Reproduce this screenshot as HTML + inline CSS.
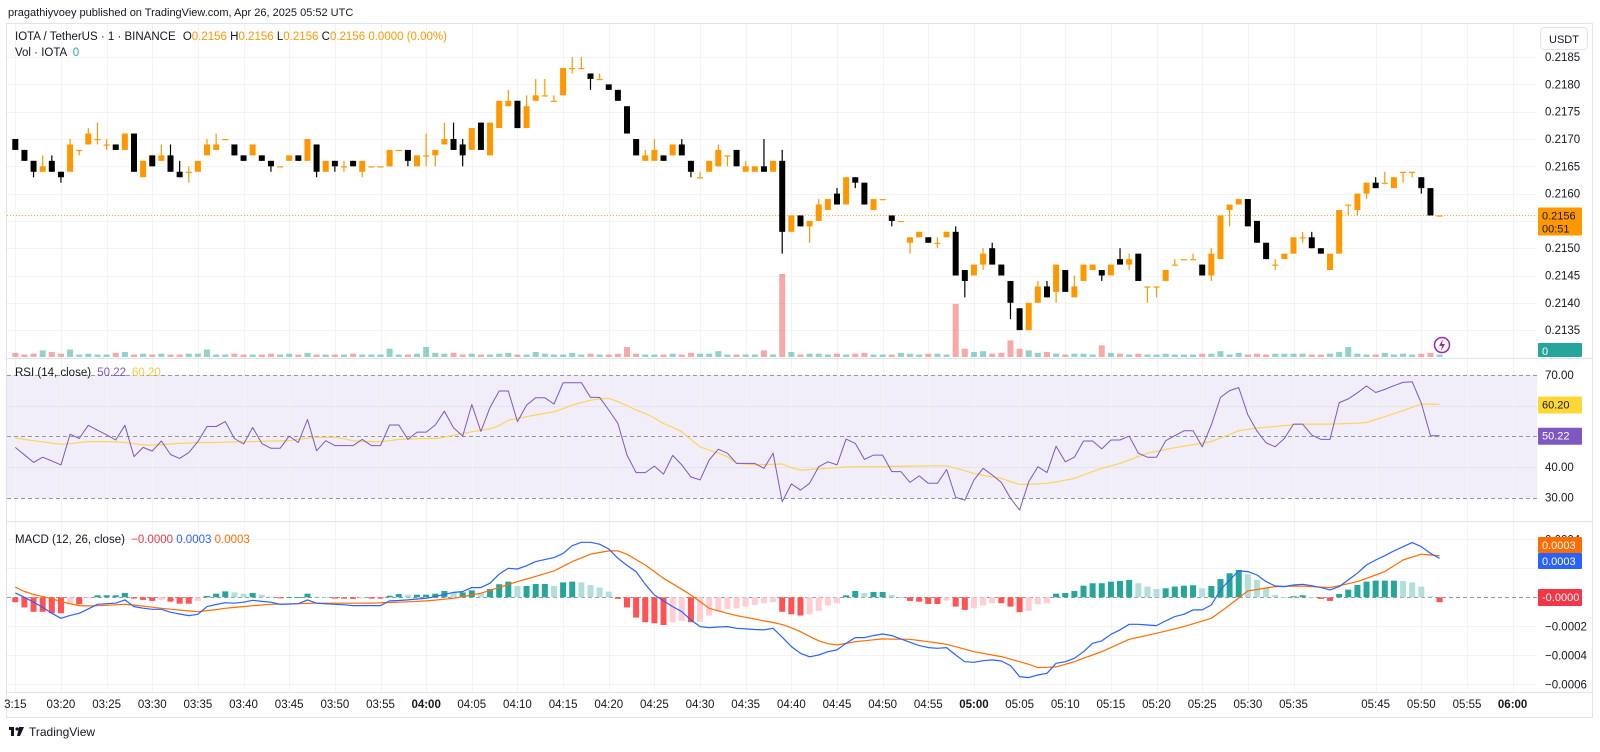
<!DOCTYPE html>
<html><head><meta charset="utf-8">
<style>
html,body{margin:0;padding:0;background:#fff;}
body{width:1600px;height:747px;overflow:hidden;font-family:"Liberation Sans",sans-serif;}
svg text{font-family:"Liberation Sans",sans-serif;}
</style></head>
<body>
<svg id="chart" width="1600" height="747" viewBox="0 0 1600 747" xmlns="http://www.w3.org/2000/svg">
<text x="8" y="16" font-size="11" fill="#131722">pragathiyvoey published on TradingView.com, Apr 26, 2025 05:52 UTC</text>
<rect x="6.5" y="23.5" width="1586" height="694" fill="none" stroke="#e0e3eb"/>
<rect x="7" y="375" width="1530" height="123" fill="#7e57c2" fill-opacity="0.1"/>
<g id="grid"></g>
<line x1="7" y1="358.5" x2="1592" y2="358.5" stroke="#e0e3eb"/>
<line x1="7" y1="521.5" x2="1592" y2="521.5" stroke="#e0e3eb"/>
<line x1="7" y1="692.5" x2="1592" y2="692.5" stroke="#e0e3eb"/>
<g id="marks" clip-path="url(#plotclip)"></g>
<defs><clipPath id="plotclip"><rect x="7" y="24" width="1530" height="668"/></clipPath></defs>
<g id="axes"></g>
<g font-size="11.5">
<text x="15" y="40" fill="#131722">IOTA / TetherUS · 1 · BINANCE <tspan dx="4">O</tspan><tspan fill="#ff9800">0.2156</tspan> H<tspan fill="#ff9800">0.2156</tspan> L<tspan fill="#ff9800">0.2156</tspan> C<tspan fill="#ff9800">0.2156</tspan> <tspan fill="#ff9800">0.0000 (0.00%)</tspan></text>
<text x="15" y="56" fill="#131722">Vol · IOTA <tspan fill="#26a69a" dx="3">0</tspan></text>
</g>
<text x="15" y="376" font-size="11.5" fill="#131722">RSI (14, close) <tspan fill="#7e57c2" dx="3">50.22</tspan><tspan fill="#f7c948" dx="6">60.20</tspan></text>
<text x="15" y="543" font-size="11.5" fill="#131722">MACD (12, 26, close) <tspan fill="#f23645" dx="3">−0.0000</tspan> <tspan fill="#2962ff">0.0003</tspan> <tspan fill="#ff6d00">0.0003</tspan></text>
<g><rect x="1540.5" y="27.5" width="47" height="22" rx="4" fill="#fff" stroke="#e0e3eb"/><text x="1564" y="43" font-size="11" text-anchor="middle" fill="#131722">USDT</text></g>
<g>
<rect x="9" y="727" width="5" height="3" fill="#131722"/><rect x="11" y="727" width="3" height="9" fill="#131722"/><circle cx="17" cy="729" r="1.6" fill="#131722"/><path d="M19 727 h5 l-4 9 h-3 z" fill="#131722"/>
<text x="29" y="736" font-size="12" fill="#131722">TradingView</text></g>
</svg>
<script>
// ---- data (prices in 0.0001 ticks above 0.2100) ----
const opens=[70,68,66,64,66,64,64,68,69,70,69,69,68,71,63,67,66,67,64,64,64,67,68,70,69,67,67,67,66,65,66,67,66,69,64,66,65,66,64,65,65,65,68,68,65,67,67,69,70,69,68,73,67,72,76,77,72,77,78,77,78,83,83,82,81,80,79,76,70,66,66,67,67,69,66,63,64,65,67,68,64,64,65,64,66,53,56,54,55,57,60,58,63,62,57,59,56,55,51,52,52,51,52,53,46,45,47,50,47,44,39,35,40,43,42,46,41,44,46,46,45,48,47,49,43,43,44,47,48,48,47,45,48,57,58,59,55,51,47,48,49,52,52,50,46,49,58,57,60,62,62,61,64,64,63,61,56];
const highs=[70,68,66,67,67,64,70,68,72,73,70,69,71,71,66,67,69,69,66,65,66,70,71,70,69,67,69,67,66,65,67,67,70,69,66,66,66,66,66,65,65,68,68,68,67,71,68,73,73,70,72,73,73,77,79,77,78,81,81,78,83,85,85,82,82,80,79,76,70,68,70,67,69,70,66,64,66,69,67,68,66,65,70,66,68,56,56,55,59,59,61,63,63,62,59,59,56,55,52,53,52,52,53,54,46,47,50,51,47,44,39,40,44,44,47,46,45,47,47,46,47,50,49,49,43,43,46,48,48,49,47,50,56,58,59,59,55,51,48,49,52,53,53,50,49,57,58,60,62,63,64,63,64,64,63,61,56];
const lows=[68,66,63,64,64,62,64,67,69,69,68,68,68,64,63,65,66,64,63,62,64,67,68,70,67,66,67,66,64,65,66,66,66,63,64,64,64,65,63,65,65,65,68,65,65,65,65,69,68,65,68,68,67,72,76,72,72,77,78,77,78,82,83,79,81,79,77,71,67,66,66,66,67,67,63,63,64,65,65,65,64,64,64,64,49,53,54,51,55,57,58,58,61,58,57,59,54,55,49,52,51,50,52,45,41,45,46,47,45,37,35,35,40,41,40,42,41,44,46,44,45,47,46,44,40,41,44,47,48,48,45,44,48,54,58,54,51,48,46,48,49,51,50,49,46,49,56,56,59,61,62,61,62,63,60,56,56];
const closes=[68,66,64,65,64,63,69,68,71,70,69,68,71,64,66,65,67,64,63,64,66,69,69,70,67,66,69,66,65,65,67,66,70,64,66,65,65,65,66,65,65,68,68,66,67,67,68,70,68,67,72,68,73,77,77,72,76,78,78,77,83,83,83,81,81,79,77,71,67,67,68,66,69,67,64,63,66,68,67,65,65,65,64,66,53,56,54,55,58,59,58,63,62,58,59,59,55,55,52,53,51,51,53,45,44,47,49,47,45,40,35,40,43,41,47,42,43,47,47,45,47,47,48,44,43,43,46,47,48,48,45,49,56,58,59,54,51,48,47,49,52,52,50,49,49,57,58,60,62,61,62,63,64,64,61,56,56];
const volumes=[5,3,4,8,6,4,9,3,4,3,3,5,6,3,4,3,4,3,3,4,4,9,3,3,4,3,3,3,4,3,4,3,5,3,3,3,3,4,3,3,3,10,3,3,4,12,5,4,5,3,4,3,3,4,5,3,3,6,4,3,3,5,3,4,3,3,4,12,4,3,3,3,4,3,5,4,4,7,3,3,3,3,8,3,100,6,3,4,4,3,4,3,4,5,3,3,3,5,4,3,4,4,3,64,10,6,7,4,5,20,10,8,5,6,4,3,4,4,3,14,5,4,3,4,3,3,4,3,3,3,4,4,7,3,5,3,4,3,4,4,4,4,3,3,4,6,12,4,3,3,5,3,4,3,4,5,3];
const rsiValues=[46.4,44,41.5,43.2,42,40.7,50.7,49.3,53.6,52,50.5,48.8,53.6,43.4,46.4,45.2,48.5,44.1,42.8,44.7,48.3,53.2,53.2,54.8,49.3,47.5,52.9,47.7,46.1,46.1,50.1,48,55.5,45.3,48.6,47,47,47,49,47,47,53.7,53.7,49,51.4,51.4,53.7,58.2,52.8,50.1,60.4,51.6,59.5,64.8,64.8,54.8,60.2,62.6,62.6,60.5,67.5,67.5,67.5,62.7,62.7,58.6,54.2,43.9,38.2,38.2,40.3,37.7,43.8,40.7,36.8,35.8,42.3,45.8,44.5,41.2,41.2,41.2,39.6,44.5,28.7,34.5,32.5,34.7,40.1,41.7,40.7,49.1,47.7,42.5,43.9,43.9,38.5,38.5,35,37.1,34.7,34.7,39.2,30.1,29.2,35.8,39.6,37.4,35,29.8,26,35.2,40.1,38.2,46.8,41.7,43.2,48.5,48.5,45.9,48.8,48.8,50.1,44.5,43.2,43.2,48.6,50.2,51.8,51.8,46.6,53.7,62.7,64.9,65.9,57,51.7,47.9,46.6,49.3,54,54,50.4,49,49,61,62.2,64.2,66.4,64.3,65.3,66.5,67.6,67.8,60.8,50.2,50.2];
const rsiMaValues=[49.5,49,48.6,48.2,47.8,47.4,47.6,48,48.3,48.3,48.3,48.2,48,47.6,47.2,47.2,47.3,47.5,47.7,47.8,48,48,48,48.1,48.2,48.2,48.3,48.4,48.5,48.5,48.6,49,49.4,49.7,49.7,49.7,49.2,48.6,48.4,48.3,48.3,48.6,49,49.1,49.2,49.3,49.3,49.8,50.3,51,51.5,52,52.4,53.5,55.3,55.8,56.4,57,57.5,58,59,60.2,61,61.8,62.2,62.4,61.3,60,58.6,57.5,56,54.2,53,51.5,49,46.6,45.5,44.5,43.4,41.2,41,40.7,40.8,40.9,41,39.8,39,39.2,39.4,39.6,39.8,40,40.1,40.1,40.1,40.1,40.2,40.2,40.3,40.3,40.4,40.4,40.4,39.6,38.8,37.9,37.3,36.8,36.3,35.3,34.3,34.4,34.5,34.7,35.2,35.7,36.3,37.4,38.5,39.6,40.4,41.2,42.3,43.4,44.5,45.1,45.7,46.3,46.8,47.3,47.8,48.3,49.5,50.6,51.8,52.3,52.7,53,53.2,53.5,53.8,54,54,54,54,54.1,54.2,54.3,54.5,55.5,56.4,57.4,58.4,59.5,60.5,60.5,60.4];
// MACD in units of 0.00001
const macdValues=[3,0,-3.4,-7,-11,-14.5,-12.5,-11,-8,-4.8,-4.4,-4.1,-1.8,-6.4,-7.5,-8.3,-8.3,-10.3,-11.5,-12.6,-11.7,-6.4,-5,-3.7,-4.1,-3.4,-2.1,-2.8,-3.4,-4.8,-4.6,-4.4,-1.8,-4.1,-4.5,-4.8,-5.2,-5.7,-5.7,-5.7,-5.7,-2.5,-2.2,-1.8,-1.2,-0.7,0.5,2,3.4,3.9,6.7,6.7,9.7,16,20,19.5,21.8,24.6,26,27.4,30.3,35.6,37.9,37.9,36.6,33.3,26.9,22,17.7,9,1.6,-2.5,-6.4,-9.9,-15.6,-20.2,-20.9,-20.5,-20.2,-21.4,-21.8,-22.2,-22.5,-21.4,-27.5,-34,-38.6,-41,-39.8,-37.5,-36.3,-31.7,-27.8,-27.8,-26.4,-25.3,-26.4,-28.7,-31,-33.3,-34.7,-35.2,-34.7,-39.8,-44.4,-44.8,-43.7,-43.2,-43.9,-47.1,-54.7,-55.4,-53.6,-52.4,-45.5,-44.4,-42.1,-37.5,-31.7,-30.1,-25.5,-22.5,-18.6,-18.6,-19.1,-19.5,-16.3,-13.3,-11.7,-8.7,-8.7,-5.3,5.1,12,18.2,17.7,15.4,10.8,7.8,7.4,8.5,9,8,6.7,5.1,7.4,12,16.6,22.3,25.7,28.7,32,34.9,37.7,34.9,30.3,26.9];
const signalValues=[7,4,2,0.5,-1,-3,-4.5,-5.7,-5.9,-5.8,-5.5,-5.2,-4.8,-5.4,-6.1,-6.8,-7.6,-8.2,-8.8,-9.4,-9.9,-9.2,-8.5,-7.6,-7,-6.4,-5.8,-5.3,-4.8,-4.7,-4.6,-4.4,-4.2,-4.1,-4.1,-4.1,-4.1,-4.1,-4.1,-4,-3.8,-3.6,-3.4,-3.1,-2.8,-2.5,-1.9,-1.3,-0.7,0.5,1.6,2.8,4.8,6.8,8.8,10.8,12.6,14.4,16.3,18.2,21.4,24.6,27.2,29.7,30.9,32,32,29.7,26,22.3,17.7,13.1,9.3,5.5,1.6,-3,-7.6,-9.3,-11,-12.6,-13.8,-15,-16.3,-17.4,-18.8,-21,-23.7,-27,-30,-32,-32.9,-31.8,-30.6,-30,-29.3,-28.7,-28.8,-28.9,-29,-29.8,-30.6,-31.5,-32.4,-34.1,-35.8,-37.5,-38.6,-39.8,-40.9,-42.7,-44.4,-46.2,-48.5,-48.3,-48,-46.2,-44.4,-42,-39.8,-37.5,-34.7,-31.8,-29,-27.6,-26.2,-24.8,-23.3,-21.7,-20.2,-18.3,-16.4,-14.5,-9.9,-5.3,-0.5,4.4,5.4,6.4,7.4,7.5,7.7,7.8,7.4,7,6.7,8,9.4,10.8,13.1,15.4,17.7,21.7,25.7,27.7,29.7,29.2,28.7];
const histValues=[-3.4,-7,-10,-10,-11,-11,-4.8,-4.8,-0.7,1.4,1.4,1.4,3,-0.9,-1.8,-2.5,-1.8,-3,-4.4,-4.4,-2.5,0.9,2.5,4.1,3.4,2.5,3,1.8,0.5,-0.7,0.2,0.2,2.5,0.5,0,-0.9,-0.9,-1.1,-0.7,-0.9,-0.9,1.1,2.3,1.8,1.8,1.8,2.5,4.4,3.4,3.4,4.8,2.8,5.7,9,10.8,7.8,7.8,9.2,9.2,7.8,10.3,10.8,10.3,8.5,6.7,3.9,-1.1,-7,-14,-17.2,-17.9,-19.1,-17.2,-16.3,-17.2,-16.8,-12.6,-9.9,-8,-7.6,-6.4,-5.3,-4.1,-3.4,-10,-11.7,-12.6,-11.7,-9.4,-5.7,-4.1,1.4,4.4,3,3.7,3.7,1.6,0,-2.5,-3,-4.6,-4.6,-2.3,-6.4,-8.7,-7.6,-5.7,-4.1,-4.1,-6.4,-10.3,-9.4,-4.8,-4.1,2.5,3,4.4,8,9.7,9.7,10.8,11.3,12,9.7,7.4,5.7,6.2,7.4,8,8.3,6.2,7.8,12.6,16.6,18.9,15.9,12,6.7,1.6,0.2,0.7,1.4,0,-1.1,-2.5,2.3,5.3,8.5,10.8,11.5,11.5,11.5,11.3,10.3,7.4,0.7,-3.4];
const timeLabels=["3:15","03:20","03:25","03:30","03:35","03:40","03:45","03:50","03:55","04:00","04:05","04:10","04:15","04:20","04:25","04:30","04:35","04:40","04:45","04:50","04:55","05:00","05:05","05:10","05:15","05:20","05:25","05:30","05:35","05:45","05:50","05:55","06:00"];
const timeLabelIdx=[0,5,10,15,20,25,30,35,40,45,50,55,60,65,70,75,80,85,90,95,100,105,110,115,120,125,130,135,140,149,154,159,164];
const priceTicks=[35,40,45,50,60,65,70,75,80,85];
const rsiTicks=[70,40,30];
const macdTicks=[-60,-40,-20];
const lastPrice=56;

// ---- axis functions ----
const xOf=i=>15.3+9.13*i;
const yP=t=>139+(70-t)*5.46;
const yV=v=>357-v*0.83;
const yR=v=>375+(70-v)*3.068;
const yM=v=>597.3-v*1.45;
const NS="http://www.w3.org/2000/svg";
function mk(tag,attrs,parent){const e=document.createElementNS(NS,tag);for(const k in attrs)e.setAttribute(k,attrs[k]);parent.appendChild(e);return e;}
const grid=document.getElementById('grid'),marks=document.getElementById('marks'),axes=document.getElementById('axes');

// grid
timeLabelIdx.forEach((ix,k)=>{const x=Math.round(xOf(ix))+0.5;
 const g=mk('line',{x1:x,y1:24,x2:x,y2:692,stroke:'#f2f3f5'},grid);
 
 
 const t=mk('text',{x:xOf(ix),y:708,'font-size':11.5,'text-anchor':'middle',fill:'#131722','font-weight':(timeLabels[k].endsWith(':00')?'bold':'normal')},axes);
 t.textContent=timeLabels[k];
 
 
});
[35,40,45,50,55,60,65,70,75,80,85].forEach(t=>{const y=Math.round(yP(t))+0.5;
 const g=mk('line',{x1:7,y1:y,x2:1537,y2:y,stroke:'#f2f3f5'},grid);
 
 });
[60,40].forEach(v=>{const y=Math.round(yR(v))+0.5;
 const g=mk('line',{x1:7,y1:y,x2:1537,y2:y,stroke:'#e6e2f0'},grid);
 
 });
[40,20,-20,-40,-60].forEach(v=>{const y=Math.round(yM(v))+0.5;
 const g=mk('line',{x1:7,y1:y,x2:1537,y2:y,stroke:'#f2f3f5'},grid);
 
 });
[70,50,30].forEach(v=>{const y=Math.round(yR(v))+0.5;
 const g=mk('line',{x1:7,y1:y,x2:1537,y2:y,stroke:'#9598a1','stroke-dasharray':'4,3'},grid);
 
 });
{const y=Math.round(yM(0))+0.5;const g=mk('line',{x1:7,y1:y,x2:1537,y2:y,stroke:'#9598a1','stroke-dasharray':'4,3'},grid);
 
 }

// volume
volumes.forEach((v,i)=>{const up=closes[i]>=opens[i];const y=yV(v);
 const r=mk('rect',{x:xOf(i)-3,y:y,width:6,height:357-y,fill:up?'#26a69a':'#ef5350','fill-opacity':0.5},marks);
 
 });

// current price line
{const y=yP(lastPrice);const l=mk('line',{x1:7,y1:y,x2:1537,y2:y,stroke:'#ff9800','stroke-dasharray':'1,2','stroke-opacity':0.8},marks);
 
 }

// candles
opens.forEach((o,i)=>{const c=closes[i],up=c>=o,col=up?'#ff9800':'#000';const x=xOf(i);
 const g=mk('g',{},marks);
 
 
 mk('line',{x1:x,y1:yP(highs[i]),x2:x,y2:yP(lows[i]),stroke:col,'stroke-width':1.2},g);
 const top=yP(Math.max(o,c)),bot=yP(Math.min(o,c));
 mk('rect',{x:x-3,y:top,width:6,height:Math.max(1.2,bot-top),fill:col},g);
});

// RSI
function poly(vals,fy,color,name,w){const pts=vals.map((v,i)=>xOf(i).toFixed(1)+','+fy(v).toFixed(1)).join(' ');
 const p=mk('polyline',{points:pts,fill:'none',stroke:color,'stroke-width':w||1,'stroke-linejoin':'round'},marks);
 
 }
poly(rsiMaValues,yR,'#f9d55a','rsi-ma-line',1.2);
poly(rsiValues,yR,'#7e57c2','rsi-line',1);

// MACD histogram
histValues.forEach((h,i)=>{const prev=i>0?histValues[i-1]:h;let col;
 if(h>=0)col=h>=prev?'#26a69a':'#b2dfdb';else col=h<=prev?'#ff5252':'#ffcdd2';
 const y0=yM(0),y1=yM(h);
 const r=mk('rect',{x:xOf(i)-3,y:Math.min(y0,y1),width:6,height:Math.max(0.8,Math.abs(y1-y0)),fill:col},marks);
 
 });
poly(signalValues,yM,'#ff6d00','macd-signal-line',1.2);
poly(macdValues,yM,'#2962ff','macd-line',1.2);

// price axis labels
function lab(x,y,txt,name,fill){const t=mk('text',{x:x,y:y+4,'font-size':11.5,fill:fill||'#131722'},axes);t.textContent=txt;
 
 return t;}
priceTicks.forEach(t=>lab(1545,yP(t),(0.21+t/10000).toFixed(4),'price-tick-label'));
rsiTicks.forEach(v=>lab(1545,yR(v),v.toFixed(2),'rsi-tick-label'));
macdTicks.forEach(v=>lab(1545,yM(v),(v/100000).toFixed(4).replace('-','−'),'macd-tick-label'));
lab(1545,yM(40),'0.0004','macd-tick-label');
function box(y,h,fill,lines,name,tc){const g=mk('g',{},axes);
 
 
 mk('rect',{x:1538,y:y,width:44,height:h,fill:fill,rx:1},g);
 lines.forEach((s,k)=>{const t=mk('text',{x:1542,y:y+12+k*13,'font-size':11,fill:tc},g);t.textContent=s;});}
box(yP(lastPrice)-8,28,'#ff9800',['0.2156','00:51'],'last-price-label','#131722');
box(343,14,'#26a69a',['0'],'volume-label','#fff');
box(yR(rsiMaValues[rsiMaValues.length-1])-8,17,'#fdd835',['60.20'],'rsi-ma-value-label','#131722');
box(yR(rsiValues[rsiValues.length-1])-8,17,'#7e57c2',['50.22'],'rsi-value-label','#fff');
box(537,16,'#ff6d00',['0.0003'],'macd-signal-value-label','#fff');
box(553,16,'#2962ff',['0.0003'],'macd-value-label','#fff');
box(589,17,'#f23645',['-0.0000'],'macd-hist-value-label','#fff');
// lightning icon
{const g=mk('g',{},axes);
 
 
 mk('circle',{cx:1442,cy:345,r:7.5,fill:'#fff',stroke:'#9c27b0','stroke-width':1.5},g);
 mk('path',{d:'M1443 339 l-4 7 h3 l-1 5 l4 -7 h-3 z',fill:'#9c27b0'},g);}
</script>
</body></html>
